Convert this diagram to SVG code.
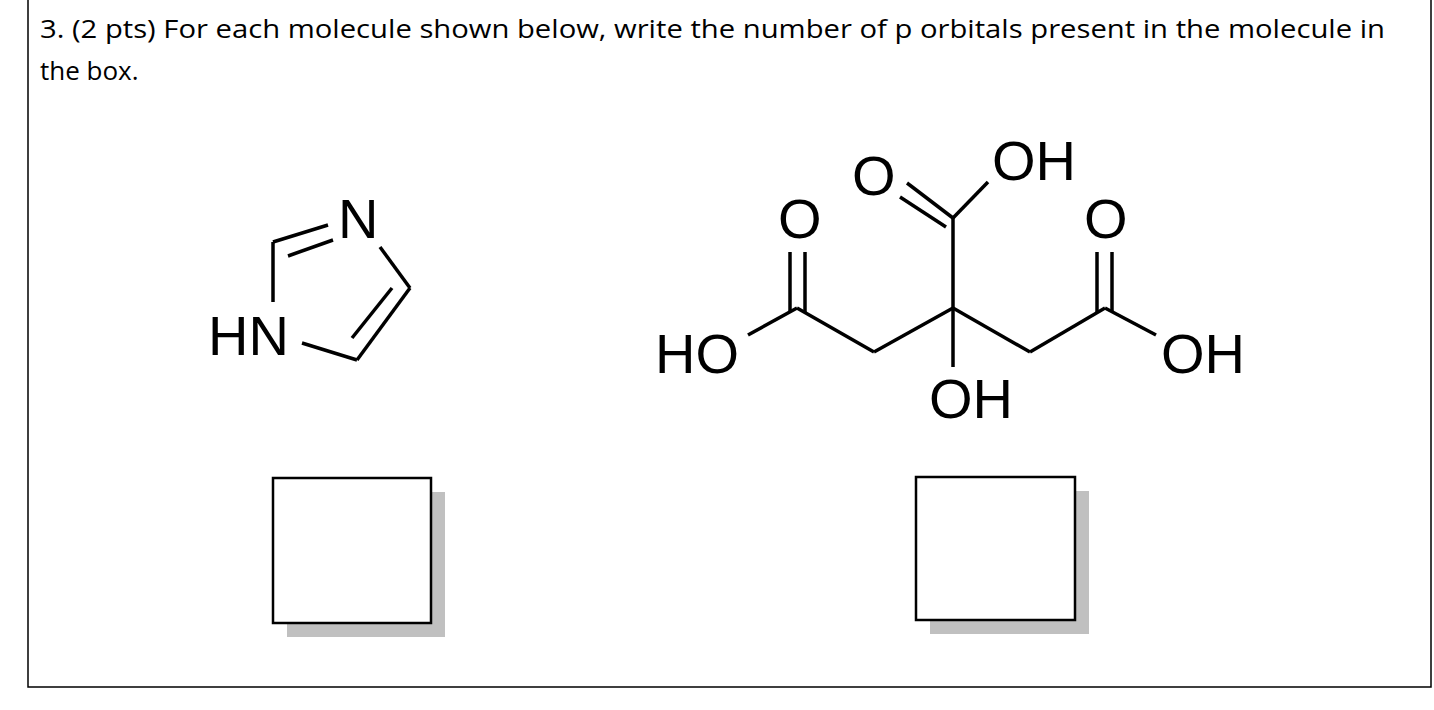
<svg xmlns="http://www.w3.org/2000/svg" width="1434" height="710" viewBox="0 0 1434 710">
<style>
.b{stroke:#000;stroke-width:3.5;fill:none;stroke-linecap:butt}
.a{font-family:"Liberation Sans",Arial,sans-serif;font-size:56px;fill:#000}
.t{font-family:"Open Sans","Liberation Sans",sans-serif;font-size:26px;fill:#000}
.box{fill:#fff;stroke:#000;stroke-width:2.5}
.sh{fill:#c0c0c0}
</style>
<rect x="0" y="0" width="1434" height="710" fill="#fff"/>
<path d="M28,0 V687 H1431 V0" fill="none" stroke="#000" stroke-width="1.5"/>
<text class="t" x="40" y="38" textLength="1345" lengthAdjust="spacingAndGlyphs">3. (2 pts) For each molecule shown below, write the number of p orbitals present in the molecule in</text>
<text class="t" x="40" y="80">the box.</text>
<g id="imidazole">
<g class="b">
<line x1="273" y1="242" x2="273" y2="302"/>
<line x1="273" y1="242" x2="328" y2="225"/>
<line x1="288" y1="256" x2="333" y2="240"/>
<line x1="380" y1="247" x2="410" y2="288"/>
<line x1="410" y1="288" x2="357" y2="360"/>
<line x1="392" y1="288" x2="352" y2="338"/>
<line x1="357" y1="360" x2="302" y2="343"/>
</g>
<text class="a" x="338" y="238">N</text>
<text class="a" x="208" y="355">HN</text>
</g>
<g id="citric-acid">
<g class="b">
<line x1="953" y1="218" x2="953" y2="367"/>
<line x1="953" y1="218" x2="907" y2="183"/>
<line x1="946" y1="227" x2="900" y2="197"/>
<line x1="953" y1="218" x2="988" y2="182"/>
<line x1="953" y1="308" x2="874" y2="352"/>
<line x1="874" y1="352" x2="797" y2="308"/>
<line x1="790" y1="252" x2="790" y2="312"/>
<line x1="805" y1="252" x2="805" y2="312"/>
<line x1="797" y1="308" x2="748" y2="335"/>
<line x1="953" y1="308" x2="1030" y2="352"/>
<line x1="1030" y1="352" x2="1105" y2="308"/>
<line x1="1097" y1="252" x2="1097" y2="312"/>
<line x1="1112" y1="252" x2="1112" y2="312"/>
<line x1="1105" y1="308" x2="1156" y2="335"/>
</g>
<text class="a" x="852" y="195">O</text>
<text class="a" x="992" y="180">OH</text>
<text class="a" x="778" y="238">O</text>
<text class="a" x="1084" y="238">O</text>
<text class="a" x="655" y="373">HO</text>
<text class="a" x="1161" y="373">OH</text>
<text class="a" x="929" y="418">OH</text>
</g>
<g id="box1">
<rect class="sh" x="287" y="492" width="158" height="145"/>
<rect class="box" x="273" y="478" width="158" height="145"/>
</g>
<g id="box2">
<rect class="sh" x="930" y="491" width="159" height="143"/>
<rect class="box" x="916" y="477" width="159" height="143"/>
</g>
</svg>
